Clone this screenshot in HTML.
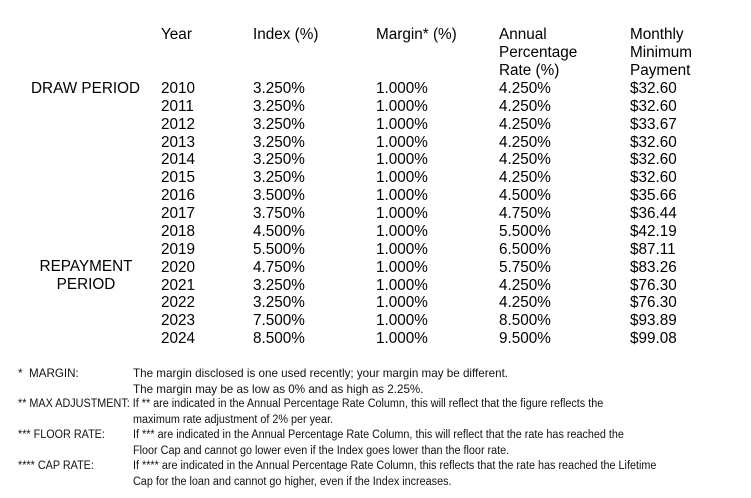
<!DOCTYPE html>
<html><head><meta charset="utf-8"><style>
body{margin:0;width:751px;height:498px;background:#fff;position:relative;overflow:hidden;font-family:"Liberation Sans",Arial,sans-serif;color:#000}
.t{position:absolute;font-size:15.3px;line-height:18px;white-space:nowrap}
.f{position:absolute;font-size:11.5px;line-height:14px;white-space:nowrap;color:#111;transform-origin:left;transform:scaleX(0.94)}
.f2{position:absolute;font-size:12px;line-height:14px;white-space:nowrap;color:#111;transform-origin:left;transform:scaleX(0.97)}
</style></head><body>
<div class="t" style="left:161px;top:26px">Year</div>
<div class="t" style="left:253px;top:26px">Index (%)</div>
<div class="t" style="left:376px;top:26px">Margin* (%)</div>
<div class="t" style="left:499px;top:26px">Annual<br>Percentage<br>Rate (%)</div>
<div class="t" style="left:630px;top:26px">Monthly<br>Minimum<br>Payment</div>
<div class="t" style="left:31px;top:80px">DRAW PERIOD</div>
<div class="t" style="left:36px;top:258px;width:100px;text-align:center">REPAYMENT<br>PERIOD</div>
<div id="rows"></div>
<script>
var d=[["2010","3.250%","4.250%","$32.60"],["2011","3.250%","4.250%","$32.60"],["2012","3.250%","4.250%","$33.67"],["2013","3.250%","4.250%","$32.60"],["2014","3.250%","4.250%","$32.60"],["2015","3.250%","4.250%","$32.60"],["2016","3.500%","4.500%","$35.66"],["2017","3.750%","4.750%","$36.44"],["2018","4.500%","5.500%","$42.19"],["2019","5.500%","6.500%","$87.11"],["2020","4.750%","5.750%","$83.26"],["2021","3.250%","4.250%","$76.30"],["2022","3.250%","4.250%","$76.30"],["2023","7.500%","8.500%","$93.89"],["2024","8.500%","9.500%","$99.08"]];
var h="";d.forEach(function(r,i){var y=(80+i*17.86).toFixed(1);
h+='<div class="t" style="left:161px;top:'+y+'px">'+r[0]+'</div><div class="t" style="left:253px;top:'+y+'px">'+r[1]+'</div><div class="t" style="left:376px;top:'+y+'px">1.000%</div><div class="t" style="left:499px;top:'+y+'px">'+r[2]+'</div><div class="t" style="left:630px;top:'+y+'px">'+r[3]+'</div>';});
document.getElementById("rows").innerHTML=h;
</script>
<div class="f2" style="left:18px;top:366px">*&nbsp; MARGIN:</div>
<div class="f2" style="left:133px;top:366px">The margin disclosed is one used recently; your margin may be different.</div>
<div class="f2" style="left:133px;top:382px">The margin may be as low as 0% and as high as 2.25%.</div>
<div class="f" style="left:18px;top:397px">** MAX ADJUSTMENT: If ** are indicated in the Annual Percentage Rate Column, this will reflect that the figure reflects the</div>
<div class="f" style="left:133px;top:413px">maximum rate adjustment of 2% per year.</div>
<div class="f" style="left:18px;top:428px">*** FLOOR RATE:</div>
<div class="f" style="left:133px;top:428px">If *** are indicated in the Annual Percentage Rate Column, this will reflect that the rate has reached the</div>
<div class="f" style="left:133px;top:444px">Floor Cap and cannot go lower even if the Index goes lower than the floor rate.</div>
<div class="f" style="left:18px;top:459px">**** CAP RATE:</div>
<div class="f" style="left:133px;top:459px">If **** are indicated in the Annual Percentage Rate Column, this reflects that the rate has reached the Lifetime</div>
<div class="f" style="left:133px;top:475px">Cap for the loan and cannot go higher, even if the Index increases.</div>
</body></html>
